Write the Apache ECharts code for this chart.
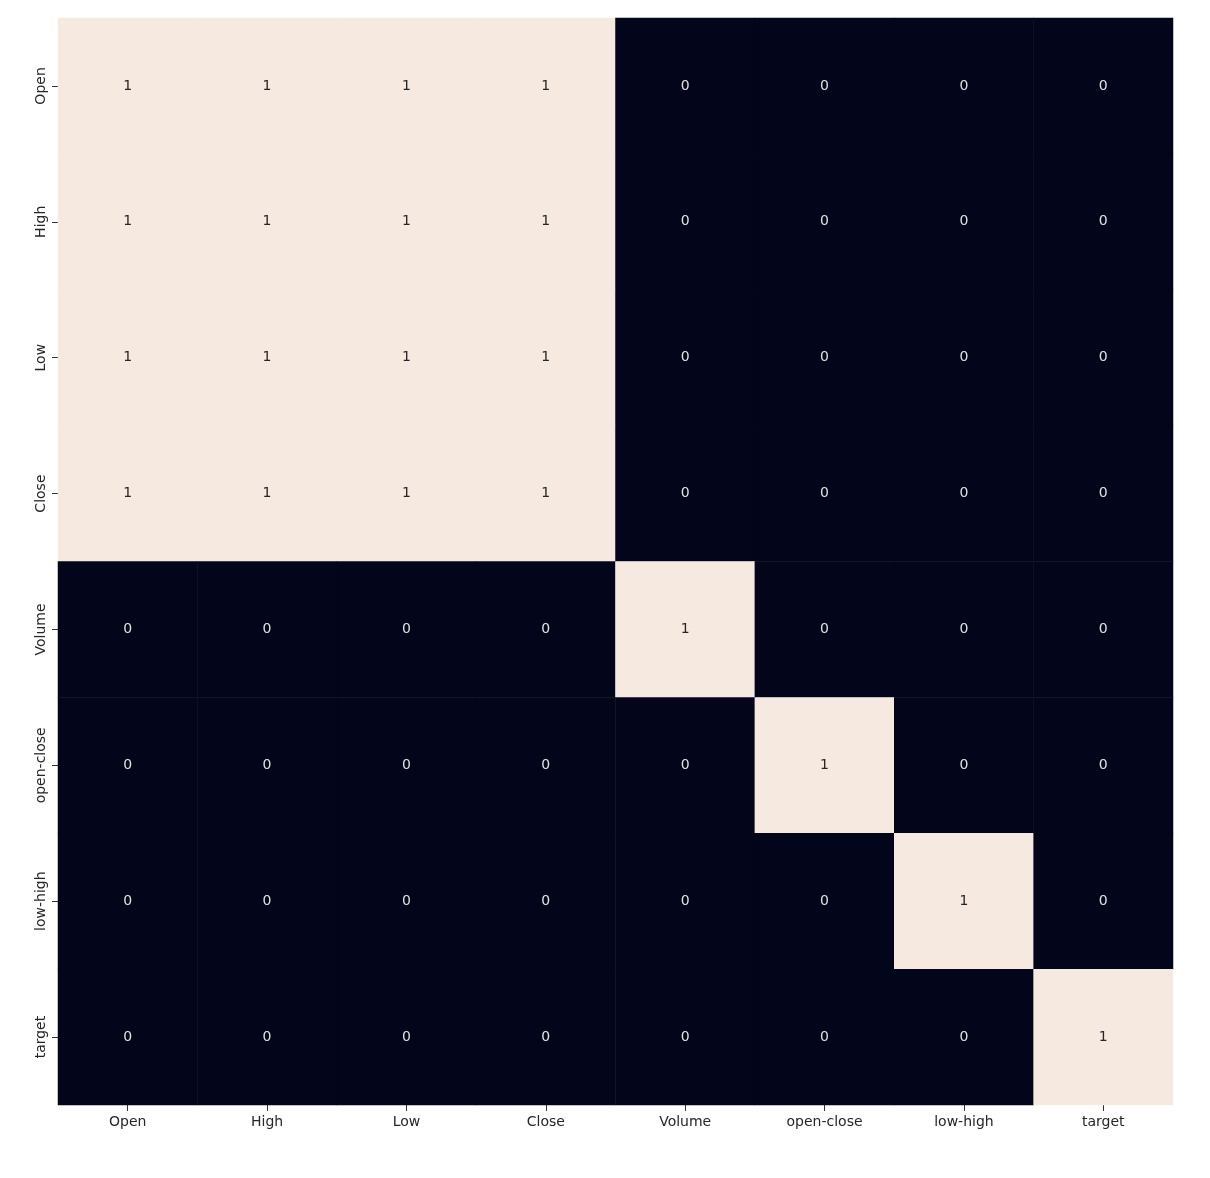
<!DOCTYPE html>
<html>
<head>
<meta charset="utf-8">
<script src="https://cdn.jsdelivr.net/npm/echarts@6/dist/echarts.min.js"></script>
<style>html,body{margin:0;padding:0;background:#fff;}#chart{width:1210px;height:1178px;}</style>
</head>
<body>
<div id="chart"></div>
<script>
var labels = ['Open', 'High', 'Low', 'Close', 'Volume', 'open-close', 'low-high', 'target'];
var matrix = [
    [1, 1, 1, 1, 0, 0, 0, 0],
    [1, 1, 1, 1, 0, 0, 0, 0],
    [1, 1, 1, 1, 0, 0, 0, 0],
    [1, 1, 1, 1, 0, 0, 0, 0],
    [0, 0, 0, 0, 1, 0, 0, 0],
    [0, 0, 0, 0, 0, 1, 0, 0],
    [0, 0, 0, 0, 0, 0, 1, 0],
    [0, 0, 0, 0, 0, 0, 0, 1]
];

var lightColor = '#f6e9df';
var darkColor = '#03051a';

var cells = [];
matrix.forEach(function (row, r) {
    row.forEach(function (v, c) {
        cells.push({
            value: [c, r, v],
            itemStyle: { color: v ? lightColor : darkColor },
            label: { color: v ? '#262626' : '#e0e0e0' }
        });
    });
});

var myChart = echarts.init(document.getElementById('chart'));
var option = {
    backgroundColor: '#fff',
    animation: false,
    grid: { left: 58, right: 37, top: 18, bottom: 73 },
    xAxis: {
        type: 'category',
        data: labels,
        axisLine: { show: false },
        axisTick: { show: true, alignWithLabel: true, length: 6, lineStyle: { color: '#333' } },
        axisLabel: { color: '#262626', fontSize: 14, margin: 10, fontFamily: 'DejaVu Sans' },
        splitLine: { show: false }
    },
    yAxis: {
        type: 'category',
        data: labels,
        inverse: true,
        axisLine: { show: false },
        axisTick: { show: true, alignWithLabel: true, length: 6, lineStyle: { color: '#333' } },
        axisLabel: { color: '#262626', fontSize: 14, rotate: 90, margin: 10, fontFamily: 'DejaVu Sans' },
        splitLine: { show: false }
    },
    series: [{
        type: 'heatmap',
        data: cells,
        label: {
            show: true,
            fontSize: 14,
            fontFamily: 'DejaVu Sans',
            formatter: function (p) { return p.value[2]; }
        }
    }]
};
myChart.setOption(option);
</script>
</body>
</html>
